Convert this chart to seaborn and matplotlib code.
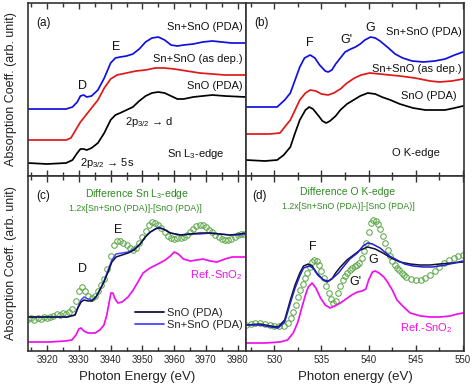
import numpy as np
import pandas as pd
import matplotlib
matplotlib.use("Agg")
import matplotlib.pyplot as plt
import seaborn as sns
from matplotlib.ticker import MultipleLocator
from matplotlib.lines import Line2D

sns.set_style("ticks")
plt.rcParams['font.family'] = ['Liberation Sans', 'DejaVu Sans']
plt.rcParams['mathtext.default'] = 'regular'

# ---------------- Panel (a): Sn L3-edge ----------------
a_blue_E = [3914, 3920, 3926, 3928, 3929.5, 3930.5, 3931.5, 3932.5, 3934, 3936, 3938, 3940, 3941.5, 3943, 3945,
            3947, 3949, 3951, 3953, 3955, 3957, 3959, 3961, 3963, 3966, 3969, 3972, 3975, 3978, 3982.5]
a_blue_v = [67, 67, 67, 69, 74, 80, 81, 79, 80, 86, 98, 113, 118, 119, 120,
            122, 127, 134, 138, 139, 136, 131, 130, 131, 132, 134, 135, 134, 133, 133]
a_red_E = [3914, 3920, 3926, 3927.5, 3929, 3930.5, 3932, 3934, 3936, 3938, 3940, 3942, 3945, 3948, 3951,
           3954, 3957, 3960, 3964, 3968, 3972, 3976, 3982.5]
a_red_v = [36, 36, 36, 38, 46, 54, 60, 68, 76, 88, 97, 101, 103, 105, 106,
           108, 108, 107, 105, 103, 102, 101, 101]
a_black_E = [3914, 3920, 3926, 3928, 3929.5, 3930.5, 3931.5, 3932.5, 3934, 3936, 3938, 3940, 3941.5, 3943, 3945,
             3947, 3949, 3951, 3953, 3955, 3957, 3959, 3961, 3963, 3966, 3969, 3972, 3976, 3982.5]
a_black_v = [13, 12, 13, 16, 23, 27, 27, 26, 28, 33, 43, 56, 61, 63, 66,
             69, 75, 80, 83, 84, 83, 80, 77, 77, 79, 80, 81, 80, 79]

# ---------------- Panel (b): O K-edge ----------------
b_blue_E = [527, 529, 530.3, 531.1, 531.7, 532.2, 532.7, 533.2, 533.8, 534.3, 534.8, 535.4, 535.7, 536.1, 536.5,
            537, 537.5, 538.1, 538.6, 539.1, 539.6, 540.2, 540.7, 541.2, 542.1, 542.8, 543.6, 544.6, 545.8, 547,
            548.1, 549.1, 550]
b_blue_v = [69, 69, 69, 76, 83, 96, 109, 118, 121, 118, 111, 105, 104, 106, 112,
            118, 124, 127, 129, 132, 136, 139, 138, 135, 128, 122, 118, 115, 114, 115,
            117, 121, 124]
b_red_E = [527, 529.5, 530.6, 531.1, 531.7, 532.2, 532.7, 533.3, 533.8, 534.4, 535, 535.7, 536.3, 537, 537.7,
           538.5, 539.2, 540.1, 541.2, 542.2, 543.3, 544.9, 546.5, 547.5, 548.8, 550]
b_red_v = [42, 42, 43, 49, 56, 66, 76, 83, 86, 85, 82, 81, 83, 87, 93,
           98, 101, 103, 102, 101, 100, 98, 95, 94, 95, 97]
b_black_E = [527, 529, 530.3, 531, 531.7, 532.2, 532.7, 533.3, 533.7, 534.1, 534.7, 535.1, 535.5, 535.9, 536.5,
             537, 537.7, 538.4, 539.1, 539.9, 540.7, 541.4, 542.3, 543.3, 544.7, 546, 547, 548.1, 549.1, 550]
b_black_v = [16, 15, 16, 21, 29, 43, 56, 66, 69, 67, 60, 55, 53, 55, 60,
             66, 72, 76, 80, 83, 82, 79, 76, 72, 68, 66, 66, 66, 68, 70]

# ---------------- Panel (c): Sn L3-edge comparison ----------------
c_black_E = [3914, 3920.9, 3926.3, 3928.8, 3929.7, 3930.7, 3931.6, 3932.9, 3934.1, 3935.4, 3936.6, 3937.9, 3939.2,
             3940.4, 3941.7, 3943.6, 3945.5, 3947.4, 3949.3, 3950.9, 3952.5, 3954.1, 3955, 3956.6, 3958.8, 3962,
             3965.1, 3968.1, 3971.2, 3974.4, 3977.5, 3980.7, 3982.6]
c_black_v = [34, 34, 34, 36, 43, 49, 51, 50, 50, 54, 61, 69, 79,
             89, 94, 96, 98, 101, 107, 114, 119, 122, 123, 122, 118, 116,
             117, 118, 118, 117, 116, 117, 118]
c_blue_v = [34, 34, 34, 36, 44, 51, 54, 52, 51, 54, 61, 70, 81,
            91, 97, 98, 99, 102, 107, 114, 119, 122, 124, 122, 118, 116,
            117, 117, 118, 117, 116, 116, 117]
c_diff_E = list(range(3914, 3983))
c_diff_v = [32, 33, 31, 33, 32, 34, 33, 34, 35, 37, 36, 38, 37, 39, 42, 50, 60, 64, 60, 55, 53, 55, 60, 66, 72,
            82, 95, 106, 110, 110, 108, 106, 103, 101, 103, 108, 114, 120, 126, 129, 128, 126, 123, 119, 115,
            113, 112, 113, 113, 114, 116, 119, 122, 125, 126, 126, 124, 121, 119, 116, 114, 112, 111, 111, 112,
            114, 116, 117, 117]
c_ref_E = [3914, 3920.9, 3925.6, 3927.8, 3929.1, 3930.0, 3930.7, 3931.6, 3932.9, 3935.1, 3936.6, 3937.9, 3938.8,
           3939.5, 3940.1, 3940.7, 3941.4, 3942.3, 3943.6, 3945.5, 3947.1, 3948.6, 3950.2, 3952.4, 3954.9, 3957.2,
           3958.8, 3960, 3961.3, 3962.9, 3965.1, 3967.2, 3969.1, 3971.3, 3973.5, 3976, 3978.2, 3980.7, 3982.6]
c_ref_v = [9, 9, 10, 11, 16, 22, 23, 20, 18, 18, 21, 26, 36,
           48, 58, 58, 52, 48, 49, 54, 61, 69, 78, 83, 87, 91,
           95, 99, 97, 92, 90, 91, 92, 90, 89, 92, 94, 94, 94]

# ---------------- Panel (d): O K-edge comparison ----------------
d_black_E = [527, 528.5, 529.6, 530.4, 531.1, 531.7, 532.2, 532.7, 533.1, 533.6, 534, 534.5, 535.1, 535.6, 536.1,
             536.5, 537, 537.7, 538.4, 539.1, 539.9, 540.7, 541.5, 542.4, 543.3, 544.4, 545.4, 546.5, 547.5, 548.8, 550]
d_black_v = [26, 27, 25, 24, 31, 51, 66, 78, 85, 87, 85, 78, 72, 69, 72,
             78, 84, 91, 96, 101, 104, 102, 98, 93, 89, 87, 86, 86, 87, 88, 89]
d_blue_E = [527, 528.5, 529.6, 530.4, 531.1, 531.7, 532.2, 532.7, 533.1, 533.7, 534.1, 534.6, 535.2, 535.7, 536.2,
            536.8, 537.3, 538, 538.8, 539.4, 539.9, 540.4, 541.2, 542.2, 543, 543.8, 544.7, 545.8, 546.8, 548.1,
            549.1, 550]
d_blue_v = [26, 26, 24, 23, 29, 48, 63, 75, 83, 85, 83, 76, 71, 70, 73,
            78, 84, 92, 98, 105, 108, 107, 103, 95, 91, 87, 85, 84, 84, 86,
            88, 90]
d_diff_E = [527.0, 527.5, 528.0, 528.5, 529.0, 529.5, 530.0, 530.5, 531.0, 531.5, 531.75, 532.0, 532.25, 532.5,
            532.75, 533.0, 533.25, 533.5, 533.75, 534.0, 534.25, 534.5, 534.75, 535.0, 535.25, 535.5, 535.75,
            536.0, 536.25, 536.5, 536.75, 537.0, 537.25, 537.5, 537.75, 538.0, 538.25, 538.5, 538.75, 539.0,
            539.25, 539.5, 539.75, 540.0, 540.25, 540.5, 540.75, 541.0, 541.25, 541.5, 541.75, 542.0, 542.25,
            542.5, 542.75, 543.0, 543.25, 543.5, 543.75, 544.0, 544.5, 545.0, 545.5, 546.0, 546.5, 547.0, 547.5,
            548.0, 548.5, 549.0, 549.5, 550.0]
d_diff_v = [26, 27, 28, 28, 27, 26, 25, 25, 25, 28, 33, 39, 46, 54,
            61, 67, 73, 78, 84, 89, 91, 90, 86, 80, 73, 65, 58,
            52, 48, 50, 58, 65, 71, 75, 78, 81, 83, 85, 86, 88,
            93, 100, 108, 119, 128, 131, 130, 127, 122, 115, 108, 101, 95,
            90, 86, 83, 81, 78, 76, 74, 72, 71, 71, 73, 76, 80, 84,
            88, 91, 93, 95, 96]
d_ref_E = [527, 529, 530.6, 531.4, 532, 532.5, 532.9, 533.3, 533.6, 534, 534.4, 534.9, 535.4, 535.9, 536.4, 537,
           537.6, 538.2, 538.8, 539.3, 539.7, 540, 540.4, 540.7, 541.1, 541.6, 542, 542.5, 543, 543.7, 544.4,
           545.5, 546.5, 547.6, 548.6, 549.4, 550]
d_ref_v = [8, 8, 9, 11, 18, 29, 43, 56, 64, 68, 63, 53, 46, 43, 45, 48,
           52, 56, 59, 60, 62, 71, 79, 80, 78, 74, 69, 61, 51, 44, 38,
           35, 34, 34, 35, 37, 38]

# ---------------- colours ----------------
BLUE = "#1010e0"
LBLUE = "#4848ff"
RED = "#e01818"
BLACK = "#000000"
MAG = "#ee10ee"
GREEN_M = "#5fa84a"
GREEN_T = "#2f8a22"

W, H = 474, 386
fig = plt.figure(figsize=(W / 100, H / 100), dpi=100)
x0, xm, x1 = 28 / W, 246 / W, 464 / W
ytop, ymid, ybot = 1 - 3 / H, 1 - 176 / H, 1 - 351 / H
axA = fig.add_axes([x0, ymid, xm - x0, ytop - ymid])
axB = fig.add_axes([xm, ymid, x1 - xm, ytop - ymid])
axC = fig.add_axes([x0, ybot, xm - x0, ymid - ybot])
axD = fig.add_axes([xm, ybot, x1 - xm, ymid - ybot])

LW = 1.25


def line(ax, E, v, color, lw=LW):
    sns.lineplot(x=np.asarray(E, float), y=np.asarray(v, float), ax=ax, color=color, lw=lw,
                 sort=False, estimator=None, legend=False)


def circles(ax, E, v):
    sns.lineplot(x=np.asarray(E, float), y=np.asarray(v, float), ax=ax, color=GREEN_M, lw=0,
                 linestyle='none', marker='o', markersize=4, markerfacecolor='none',
                 markeredgecolor=GREEN_M, markeredgewidth=0.75, sort=False, estimator=None, legend=False)


# (a)
line(axA, a_blue_E, a_blue_v, BLUE)
line(axA, a_red_E, a_red_v, RED)
line(axA, a_black_E, a_black_v, BLACK)
# (b)
line(axB, b_blue_E, b_blue_v, BLUE)
line(axB, b_red_E, b_red_v, RED)
line(axB, b_black_E, b_black_v, BLACK)
# (c)
circles(axC, c_diff_E, c_diff_v)
line(axC, c_ref_E, c_ref_v, MAG)
line(axC, c_black_E, c_blue_v, LBLUE, lw=1.1)
line(axC, c_black_E, c_black_v, "#101040", lw=1.1)
# (d)
circles(axD, d_diff_E, d_diff_v)
line(axD, d_ref_E, d_ref_v, MAG)
line(axD, d_black_E, d_black_v, "#101030", lw=1.1)
line(axD, d_blue_E, d_blue_v, "#2020d0", lw=1.1)

for ax in (axA, axC):
    ax.set_xlim(3914, 3982.6)
    ax.xaxis.set_major_locator(MultipleLocator(10))
    ax.xaxis.set_minor_locator(MultipleLocator(5))
for ax in (axB, axD):
    ax.set_xlim(527, 550.1)
    ax.xaxis.set_major_locator(MultipleLocator(5))
    ax.xaxis.set_minor_locator(MultipleLocator(2.5))
for ax in (axA, axB):
    ax.set_ylim(0, 173)
for ax in (axC, axD):
    ax.set_ylim(0, 175)

for ax in (axA, axB, axC, axD):
    ax.set_yticks([])
    ax.set_xlabel("")
    ax.set_ylabel("")
    ax.tick_params(axis='x', which='both', direction='in', top=True, bottom=True, labelsize=7, pad=3,
                   width=1.0, color='#333333')
    ax.tick_params(axis='x', which='major', length=4.5)
    ax.tick_params(axis='x', which='minor', length=3)
    for s in ax.spines.values():
        s.set_linewidth(1.2)
        s.set_color('#333333')
for ax in (axA, axB):
    ax.tick_params(axis='x', labelbottom=False)

axA.set_ylabel("Absorption Coeff. (arb. unit)", fontsize=9, labelpad=8, color='#222222')
axC.set_ylabel("Absorption Coeff. (arb. unit)", fontsize=9, labelpad=8, color='#222222')
axC.set_xlabel("Photon Energy (eV)", fontsize=9.5, labelpad=4, color='#222222')
axD.set_xlabel("Photon energy (eV)", fontsize=9.5, labelpad=4, color='#222222')

TC = '#111111'


def t(ax, x, y, s, size=8, ha='center', color=TC):
    ax.text(x, y, s, transform=ax.transAxes, fontsize=size, ha=ha, va='center', color=color)


# texts (a)
t(axA, 0.069, 0.884, "(a)", 8.5)
t(axA, 0.986, 0.861, "Sn+SnO (PDA)", 8, 'right')
t(axA, 0.986, 0.678, "Sn+SnO (as dep.)", 8, 'right')
t(axA, 0.986, 0.520, "SnO (PDA)", 8, 'right')
t(axA, 0.404, 0.746, "E", 9)
t(axA, 0.252, 0.520, "D", 9)
t(axA, 0.445, 0.312, "2p$_{3/2}$ \u2192 d", 8, 'left')
t(axA, 0.638, 0.127, "Sn L$_3$-edge", 8, 'left')
t(axA, 0.239, 0.075, "2p$_{3/2}$ \u2192 5s", 8, 'left')
# texts (b)
t(axB, 0.069, 0.884, "(b)", 8.5)
t(axB, 0.294, 0.769, "F", 9)
t(axB, 0.463, 0.786, "G'", 9)
t(axB, 0.569, 0.855, "G", 9)
t(axB, 0.991, 0.832, "Sn+SnO (PDA)", 8, 'right')
t(axB, 0.991, 0.618, "Sn+SnO (as dep.)", 8, 'right')
t(axB, 0.968, 0.462, "SnO (PDA)", 8, 'right')
t(axB, 0.670, 0.133, "O K-edge", 8, 'left')
# texts (c)
t(axC, 0.069, 0.886, "(c)", 8.5)
t(axC, 0.498, 0.897, "Difference Sn L$_3$-edge", 7.5, color=GREEN_T)
t(axC, 0.491, 0.817, "1.2x[Sn+SnO (PDA)]-[SnO (PDA)]", 6.3, color=GREEN_T)
t(axC, 0.248, 0.469, "D", 9)
t(axC, 0.413, 0.691, "E", 9)
t(axC, 0.743, 0.434, "Ref.-SnO$_2$", 8, 'left', color=MAG)
# texts (d)
t(axD, 0.064, 0.886, "(d)", 8.5)
t(axD, 0.468, 0.909, "Difference O K-edge", 7.5, color=GREEN_T)
t(axD, 0.468, 0.823, "1.2x[Sn+SnO (PDA)]-[SnO (PDA)]", 6.3, color=GREEN_T)
t(axD, 0.307, 0.594, "F", 9)
t(axD, 0.500, 0.394, "G'", 9)
t(axD, 0.583, 0.520, "G", 9)
t(axD, 0.706, 0.131, "Ref.-SnO$_2$", 8, 'left', color=MAG)

# legend (c)
handles = [Line2D([], [], color="#101040", lw=1.3), Line2D([], [], color=LBLUE, lw=1.3)]
axC.legend(handles, ["SnO (PDA)", "Sn+SnO (PDA)"], loc='upper left', bbox_to_anchor=(0.49, 0.245),
           frameon=False, fontsize=8, handlelength=2.6, handletextpad=0.3, labelspacing=0.15,
           borderpad=0, borderaxespad=0)

fig.savefig("out.png", dpi=100)
